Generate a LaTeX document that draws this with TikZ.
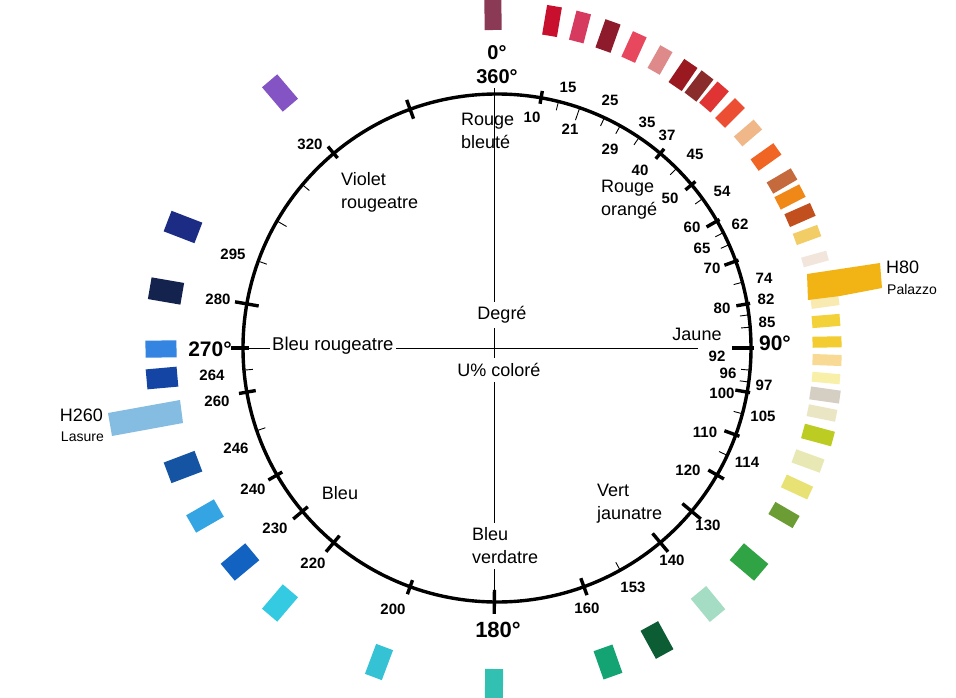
\documentclass[tikz,border=0pt]{standalone}
\usepackage{fontspec}
\setmainfont{Liberation Sans}
\usetikzlibrary{calc}
\newcommand\swt[6]{%
  \pgfmathsetmacro\swang{atan2(#2-497,348-#3)}%
  \edef\swtmp{\noexpand\definecolor{swc}{HTML}{#6}}\swtmp
  \node[swatch,fill=swc,minimum width=#5pt,minimum height=#4pt,rotate=-\swang] (#1) at (#2,#3) {};}
\begin{document}
\begin{tikzpicture}[x=1pt,y=-1pt,
  dial/.style={line width=3.4pt},
  major/.style={line width=3.4pt},
  minor/.style={line width=0.9pt},
  axis/.style={line width=1pt},
  num/.style={font=\bfseries\fontsize{15}{15}\selectfont, inner sep=0pt},
  big/.style={font=\bfseries\fontsize{21}{21}\selectfont, inner sep=0pt},
  lbl/.style={font=\fontsize{18}{23}\selectfont, align=left, inner sep=0pt},
  gap/.style={lbl, fill=white, inner xsep=2pt, inner ysep=5pt},
  tag/.style={font=\fontsize{18}{18}\selectfont, inner sep=0pt, anchor=west},
  subtag/.style={font=\fontsize{14}{14}\selectfont, inner sep=0pt, anchor=west},
  swatch/.style={inner sep=0pt, outer sep=0pt, draw=none}
]
\useasboundingbox (0,0) rectangle (956,698);
\clip (0,0) rectangle (956,698);
\fill[white] (0,0) rectangle (956,698);

% colour swatches
\foreach \n/\x/\y/\l/\w/\col in {
 s1/493/14/32/17/8B3A55, s2/552/21/30/15/C8102E, s3/580/27/30/15/D63A5E,
 s4/608/36/30/16/8E1B2B, s5/634/47/28/15/E8485E, s6/660/60/26/14/DE8A8A,
 s7/683/75/28/16/9A1820, s8/699/86/28/15/8A2C2C, s9/714/97/28/15/E03434,
 s10/730/113/28/14/EC4E34, s11/748/133/26/13/F0B888, s12/766/157/28/14/F06424,
 s13/782/181/28/13/C46A3C, s14/790/197/28/14/F08818, s15/800/215/28/14/C2501E,
 s16/807/235/26/12/F2CC64, s17/815/259/26/10/F2E6DC, s19/825/302/28/10/F8EAB0,
 s20/826/321/28/12/F2D238, s21/827/342/29/11/F2CC30, s22/827/360/29/11/F8DA94,
 s23/826/378/28/10/F8F0A8, s24/825/395/30/13/D4CFC2, s25/822/413/29/12/EAE6C4,
 s26/818/435/31/15/BCCC22, s27/808/461/30/14/E8E8B4, s28/797/487/29/14/E8E274,
 s29/784/515/28/14/6C9C34, s30/749/562/32/22/30A444, s31/708/604/30/20/A4DCC4,
 s32/657/640/32/20/0C5C34, s33/608/662/30/20/14A474, s34/494/685/32/18/32C0B2,
 s35/379/662/32/18/34C2D4, s36/280/603/32/20/34CAE2, s37/240/562/32/22/1262C2,
 s38/205/516/32/20/34A4E2, s39/183/467/33/22/1454A2, s41/162/378/31/20/1444A4,
 s42/161/349/31/17/3484E2, s43/166/291/33/22/14224E, s44/183/227/33/22/1C2C84,
 s45/280/93/32/20/8454C4}
 {\swt{\n}{\x}{\y}{\l}{\w}{\col}}

\definecolor{hbo}{HTML}{F2B414}
\definecolor{hbl}{HTML}{84BCE2}
\fill[hbo] (807,274) -- (880,263) -- (882,288) -- (840,296) -- (808,300) -- cycle;
\fill[hbl] (108,413) -- (180,400) -- (183,423) -- (112,436) -- cycle;
\node[tag] (h80) at (886,267) {H80};
\node[subtag] (pal) at (887,289) {Palazzo};
\node[tag, anchor=east] (h260) at (103,415) {H260};
\node[subtag, anchor=east] (las) at (104,437) {Lasure};

% axes
\coordinate (vt) at (494,88);
\coordinate (vb) at (494,592);
\coordinate (hl) at (250,348);
\coordinate (hr) at (698,348);
\draw[axis] (vt) -- (vb);
\draw[axis] (hl) -- (hr);

% dial
\coordinate (c) at (497,348);
\draw[dial] (c) circle[radius=254];
\foreach \a/\i/\o in {10/6/7, 40/7/6, 50/8/5, 60/12/3, 70/12/3, 80/11/3,
  90/19/3, 100/12/3, 110/12/4, 120/10/8, 130/12/12, 140/12/12, 160/9/9,
  180.6/12/12, 200/7/8, 220/9/12, 230/7/12, 240/6/10, 260/9/8, 270/6/12,
  280/12/12, 320/6/9, 340/10/10}
  \draw[major] ({497+(254-\i)*sin(\a)},{348-(254-\i)*cos(\a)}) --
               ({497+(254+\o)*sin(\a)},{348-(254+\o)*cos(\a)});
\foreach \a/\i in {14/9, 19/13, 25/9, 29/9, 34/9, 45/9, 54/9, 63/9, 66/9,
  75/9, 82.5/9, 85.3/9, 95/9, 97.7/9, 105/9, 115/9, 151/9, 251/9, 265/9,
  290/9, 300/11, 310/9}
  \draw[minor] ({497+(254-\i)*sin(\a)},{348-(254-\i)*cos(\a)}) --
               ({497+255*sin(\a)},{348-255*cos(\a)});
\draw[axis] (244,348) -- (262,348);

% numbers
\foreach \t/\x/\y in {10/532/117, 15/568/87, 21/570/129, 25/610/100, 29/610/149,
  35/647/122, 37/667/135, 40/640/170, 45/695/154, 50/670/198, 54/722/191,
  60/692/227, 62/740/224, 65/702/248, 70/712/268, 74/764/278, 80/722/308,
  82/766/299, 85/767/322, 92/717/356, 96/728/373, 97/764/385, 100/722/393,
  105/763/416, 110/705/432, 114/747/462, 120/688/470, 130/708/525,
  140/672/560, 153/633/587, 160/587/608, 200/393/609, 220/313/563,
  230/275/528, 240/253/489, 246/236/448, 260/217/401, 264/212/375,
  280/218/299, 295/233/254, 320/310/144}
  \node[num] (n\t) at (\x,\y) {\t};

\node[big, font=\bfseries\fontsize{20}{20}\selectfont] (d0) at (497,53) {0°};
\node[big, font=\bfseries\fontsize{20}{20}\selectfont] (d360) at (497,77) {360°};
\node[big] (d90) at (775,343) {90°};
\node[big, font=\bfseries\fontsize{22}{22}\selectfont] (d180) at (498,630) {180°};
\node[big] (d270) at (210,349) {270°};

% zone labels
\node[lbl, anchor=west] (rb) at (461,131) {Rouge\\bleuté};
\node[lbl, anchor=west] (vr) at (341,192) {Violet\\rougeatre};
\node[lbl, anchor=west] (ro) at (601,200) {Rouge\\orangé};
\node[lbl] (ja) at (697,334) {Jaune};
\node[lbl, anchor=west] (vj) at (597,504) {Vert\\jaunatre};
\node[lbl] (bl) at (340,493) {Bleu};
\node[gap, anchor=west] (bv) at (470,546) {Bleu\\verdatre};
\node[gap] (dg) at (502,315) {Degré};
\node[gap] (uc) at (499,370) {U\% coloré};
\node[gap, anchor=west, font=\fontsize{18.5}{23}\selectfont] (br) at (270,346) {Bleu rougeatre};
\end{tikzpicture}
\end{document}
